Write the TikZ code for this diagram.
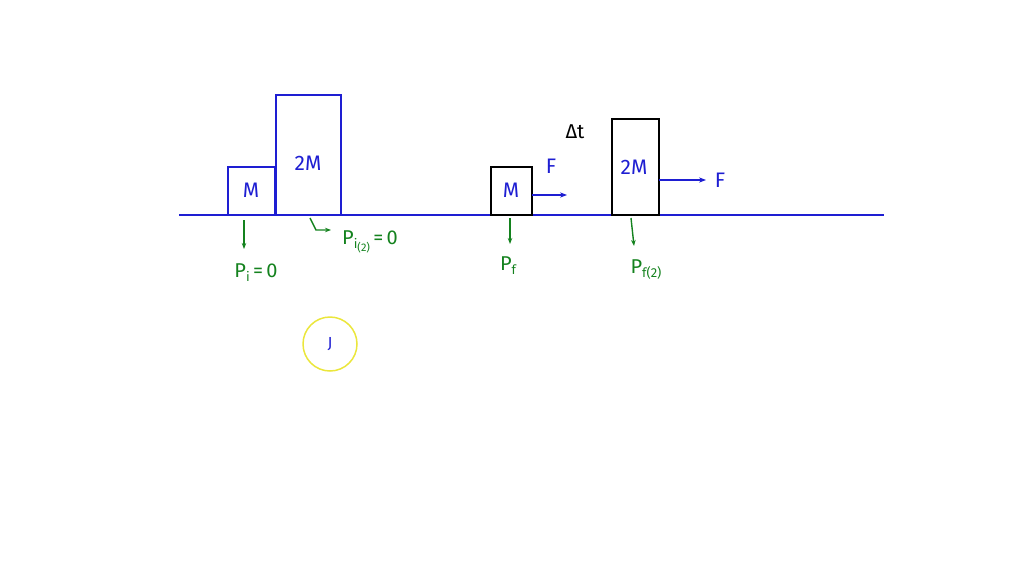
\documentclass[tikz,border=0pt]{standalone}
\usepackage{fontspec}
\setmainfont{Fira Sans}
\usetikzlibrary{arrows.meta}
\definecolor{pblue}{RGB}{30,30,210}
\definecolor{pgreen}{RGB}{20,130,30}
\definecolor{pyel}{RGB}{235,230,60}
\tikzset{
 blk/.style={draw=pblue,line width=1.4pt},
 kbox/.style={draw=black,line width=1.4pt},
 garr/.style={draw=pgreen,line width=1.4pt,-{Stealth[length=6pt]}},
 barr/.style={draw=pblue,line width=1.6pt,-{Stealth[length=7pt]}},
 gtxt/.style={text=pgreen,font=\fontsize{20}{22}\selectfont},
 btxt/.style={text=pblue,font=\fontsize{21}{22}\selectfont},
}
\newcommand{\sbs}[1]{\raisebox{-4pt}{\fontsize{13}{14}\selectfont #1}}
\begin{document}
\begin{tikzpicture}[x=1pt,y=-1pt]
\useasboundingbox (0,0) rectangle (1024,576);
\draw[pblue,line width=1.4pt] (179,215) -- (884,215);
\draw[blk] (228,167) rectangle (275,215);
\node[btxt] (m1) at (251,190) {M};
\draw[blk] (276,95) rectangle (341,215);
\node[btxt] (m2) at (308,163) {2M};
\coordinate (a1s) at (244,220); \coordinate (a1e) at (244,249);
\draw[garr] (a1s) -- (a1e);
\node[gtxt] (pi) at (256,273) {P\sbs{i}\,=\,0};
\coordinate (a2s) at (310,218); \coordinate (a2m) at (316,230); \coordinate (a2e) at (331,230);
\draw[garr] (a2s) -- (a2m) -- (a2e);
\node[gtxt] (pi2) at (370,242) {P\sbs{i\raisebox{-3pt}{\fontsize{11}{12}\selectfont(2)}}\,=\,0};
\node[draw=pyel,line width=1.5pt,circle,minimum size=54pt,text=pblue,font=\fontsize{16}{18}\selectfont] (J) at (330,344) {J};
\draw[kbox] (491,167) rectangle (532,215);
\node[btxt] (m3) at (511,190) {M};
\coordinate (f1s) at (532,195); \coordinate (f1e) at (567,195);
\draw[barr] (f1s) -- (f1e);
\node[btxt] (F1) at (551,166) {F};
\node[font=\fontsize{20}{22}\selectfont] (dt) at (575,132) {\symbol{"0394}t};
\draw[kbox] (612,119) rectangle (659,215);
\node[btxt] (m4) at (634,167) {2M};
\coordinate (f2s) at (659,180); \coordinate (f2e) at (706,180);
\draw[barr] (f2s) -- (f2e);
\node[btxt] (F2) at (720,180) {F};
\coordinate (a3s) at (510,218); \coordinate (a3e) at (510,244);
\draw[garr] (a3s) -- (a3e);
\node[gtxt] (pf) at (508,266) {P\sbs{f}};
\coordinate (a4s) at (631,218); \coordinate (a4e) at (634,246);
\draw[garr] (a4s) -- (a4e);
\node[gtxt] (pf2) at (646,270) {P\sbs{f(2)}};
\end{tikzpicture}
\end{document}
